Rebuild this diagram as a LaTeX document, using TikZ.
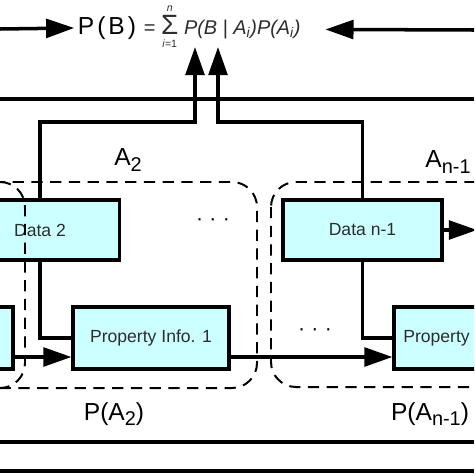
\documentclass[tikz,border=0pt]{standalone}
\usepackage{fontspec}
\setmainfont{Liberation Sans}
\usepackage{tikz}
\usetikzlibrary{positioning}
\usetikzlibrary{calc}
\usetikzlibrary{arrows.meta}
\definecolor{boxcyan}{RGB}{204,255,255}
\definecolor{txtgray}{RGB}{45,45,45}
\newcommand\lowsub[1]{\raisebox{-0.4ex}{\fontsize{17}{17}\selectfont #1}}

\tikzset{
  box/.style={draw, line width=2.6pt, fill=boxcyan, minimum width=4.77cm, minimum height=1.8cm, inner sep=0pt, font=\fontsize{15}{17}\selectfont, text=txtgray},
  prop/.style={box, minimum width=4.68cm, minimum height=1.86cm},
  wire/.style={line width=3pt},
  arr/.style={wire, -{Triangle[length=24pt,width=16pt]}},
  group/.style={line width=1.7pt, dash pattern=on 9.5pt off 6.5pt, rounded corners=0.75cm},
  lbl/.style={font=\fontsize{21}{23}\selectfont},
  fml/.style={font=\fontsize{17}{19}\selectfont, text=txtgray, inner sep=1pt},
  lim/.style={font=\fontsize{9}{9}\selectfont, text=txtgray, inner sep=0pt},
}

\begin{document}
\begin{tikzpicture}[x=0.03cm,y=-0.03cm]
            \useasboundingbox (0,0) rectangle (474,474);
            \clip (0,0) rectangle (474,474);
            % formula on top
            \node[font={\fontsize{21}{23}\selectfont\addfontfeature{LetterSpace=12}}, inner sep=3pt] (pb) at (107,28) {P(B)};
            \node[fml, base right=0.08cm of pb] (eq) {=};
            \node[fml, inner sep=0pt, base right=0.12cm of eq] (sig) {\scalebox{1.4}{\symbol{"03A3}}};
            \node[lim, above=2.5pt of sig] (signum) {\textit{n}};
            \node[lim, below=4.5pt of sig] (sigfrom) {\textit{i}=1};
            \node[fml, base right=0.12cm of sig] (bayes) {\textit{P(B | A\textsubscript{i})P(A\textsubscript{i})}};
            \coordinate (lin) at (0,29);
            \coordinate (rin) at (474,30);
            \coordinate (in1) at (195,47);
            \coordinate (in2) at (218,47);
            \coordinate (dnout) at (477,230);
            % boxes
            \node[box] (d2) at (40,230) {Data 2};
            \node[box] (dn) at (362.5,230) {Data n-1};
            \node[prop] (p0) at (-65,338) {};
            \node[prop] (prop1) at (151,338) {Property Info. 1};
            \node[prop] (propn) at (472,338) {Property Info. n-1};
            % labels
            \node[lbl] (a2) at (128,160) {A\lowsub{2}};
            \node[lbl] (an) at (448,162) {A\lowsub{n-1}};
            \node[lbl] (pa2) at (114,414) {P(A\lowsub{2})};
            \node[lbl] (pan) at (430,414) {P(A\lowsub{n-1})};
            \node[font=\fontsize{18}{18}\selectfont] (dots1) at (213,222) {·\hspace{0.3em}·\hspace{0.3em}·};
            \node[font=\fontsize{18}{18}\selectfont] (dots2) at (315,332) {·\hspace{0.3em}·\hspace{0.3em}·};
            % lines across
            \draw[wire] (0,99) -- (474,99);
            \draw[wire] (0,442) -- (474,442);
            \draw[line width=4pt] (0,471) -- (474,471);
            % connectors
            \draw[arr] (lin) -- (pb.west);
            \draw[arr, shorten >=20pt] (rin) -- (bayes.east);
            \draw[arr] (d2.north) |- (195,122) -- (in1);
            \draw[arr] (dn.north) |- (218,122) -- (in2);
            \draw[wire] (d2.south) |- (prop1.west);
            \draw[wire] (dn.south) |- (propn.west);
            \draw[arr] ($(p0.east)+(0,19)$) -- ($(prop1.west)+(0,19)$);
            \draw[arr] ($(prop1.east)+(0,19)$) -- ($(propn.west)+(0,19)$);
            \draw[arr] (dn.east) -- (dnout);
            % groups
            \draw[group] (-300,182) rectangle (25,388);
            \draw[group] (-55,182) rectangle (257,388);
            \draw[group] (271,182) rectangle (600,387);
        \end{tikzpicture}
\end{document}
